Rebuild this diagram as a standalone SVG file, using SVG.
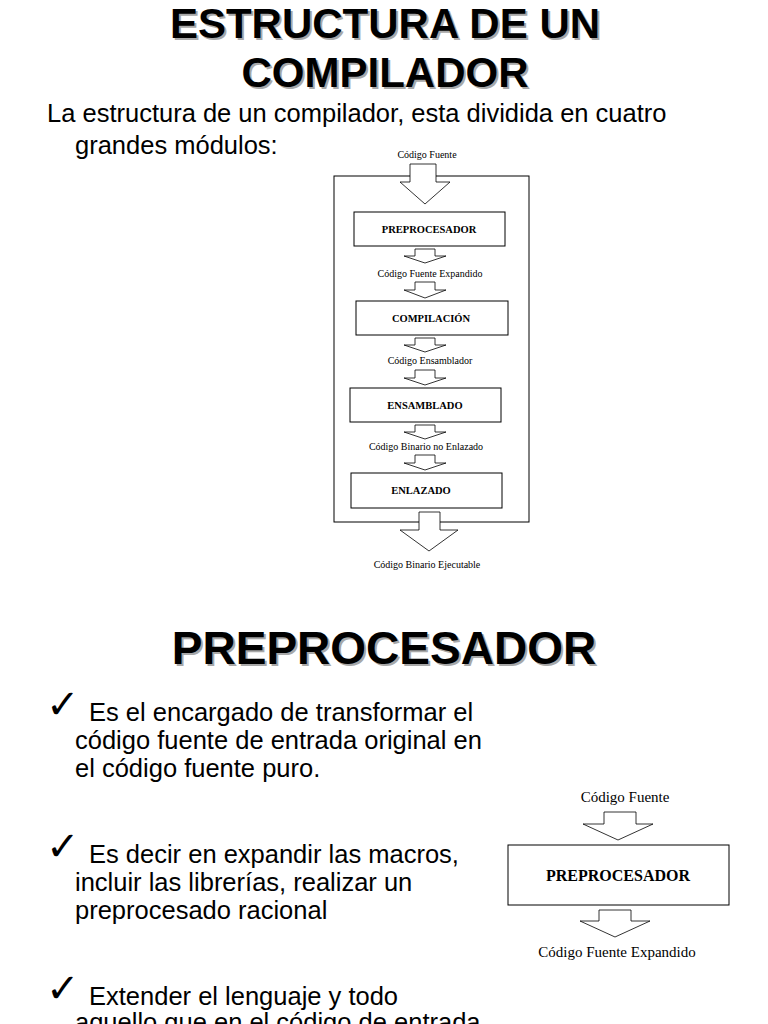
<svg xmlns="http://www.w3.org/2000/svg" width="768" height="1024" viewBox="0 0 768 1024">
<style>
.t{font-family:"Liberation Sans",Arial,sans-serif;font-weight:bold;text-anchor:middle;fill:#000}
.sh{font-family:"Liberation Sans",Arial,sans-serif;font-weight:bold;text-anchor:middle;fill:#a8a8a8}
.b{font-family:"Liberation Sans",Arial,sans-serif;font-size:25.5px;fill:#000}
.s{font-family:"Liberation Serif","Times New Roman",serif;font-size:10px;text-anchor:middle;fill:#000}
.sb{font-family:"Liberation Serif","Times New Roman",serif;font-size:10.5px;font-weight:bold;text-anchor:middle;fill:#000}
.s2{font-family:"Liberation Serif","Times New Roman",serif;font-size:15px;text-anchor:middle;fill:#000}
.sb2{font-family:"Liberation Serif","Times New Roman",serif;font-size:16px;font-weight:bold;text-anchor:middle;fill:#000}
.box{fill:#fff;stroke:#000;stroke-width:1}
.ar{fill:#fff;stroke:#000;stroke-width:0.8}
.ck{font-family:"DejaVu Sans",sans-serif;font-size:40px;font-weight:bold;fill:#000}
</style>
<rect width="768" height="1024" fill="#fff"/>
<text class="sh" x="387" y="40" font-size="42">ESTRUCTURA DE UN</text>
<text class="t" x="385" y="38" font-size="42">ESTRUCTURA DE UN</text>
<text class="sh" x="387" y="89" font-size="42">COMPILADOR</text>
<text class="t" x="385" y="87" font-size="42">COMPILADOR</text>
<text class="b" x="47" y="122">La estructura de un compilador, esta dividida en cuatro</text>
<text class="b" x="75" y="154">grandes módulos:</text>
<g id="diagram1">
<rect class="box" x="334" y="176" width="195" height="346"/>
<g id="connectors">
<path class="ar" d="M410 164H436V182H450L425 204L400 182H410Z"/>
<path class="ar" d="M415 249H435V256H446L425 263L404 256H415Z"/>
<path class="ar" d="M415 282H435V290H446L425 298L404 290H415Z"/>
<path class="ar" d="M415 338H435V345H446L425 352L404 345H415Z"/>
<path class="ar" d="M415 370H435V378H446L425 385L404 378H415Z"/>
<path class="ar" d="M415 425H435V432H446L425 439L404 432H415Z"/>
<path class="ar" d="M415 455H435V463H446L425 470L404 463H415Z"/>
<path class="ar" d="M419 512H440V530H458L429 551L400 530H419Z"/>
<path class="ar" d="M604 812H636V824H653L618 840L583 824H604Z"/>
<path class="ar" d="M599 910H631V921H650L615 937L580 921H599Z"/>
</g>
<text class="s" x="427" y="158">Código Fuente</text>
<g id="n1"><rect class="box" x="354" y="212" width="151" height="34"/><text class="sb" x="429" y="233">PREPROCESADOR</text></g>
<text class="s" x="430" y="277">Código Fuente Expandido</text>
<g id="n2"><rect class="box" x="356" y="301" width="152" height="34"/><text class="sb" x="431" y="322">COMPILACIÓN</text></g>
<text class="s" x="430" y="364">Código Ensamblador</text>
<g id="n3"><rect class="box" x="350" y="388" width="151" height="34"/><text class="sb" x="425" y="409">ENSAMBLADO</text></g>
<text class="s" x="426" y="450">Código Binario no Enlazado</text>
<g id="n4"><rect class="box" x="351" y="473" width="151" height="35"/><text class="sb" x="421" y="494">ENLAZADO</text></g>
<text class="s" x="427" y="568">Código Binario Ejecutable</text>
</g>
<text class="sh" x="386" y="666" font-size="46">PREPROCESADOR</text>
<text class="t" x="384" y="664" font-size="46">PREPROCESADOR</text>
<text class="ck" x="46" y="718">✓</text>
<text class="b" x="89" y="721">Es el encargado de transformar el</text>
<text class="b" x="75" y="749">código fuente de entrada original en</text>
<text class="b" x="75" y="777">el código fuente puro.</text>
<text class="ck" x="46" y="860">✓</text>
<text class="b" x="89" y="863">Es decir en expandir las macros,</text>
<text class="b" x="75" y="891">incluir las librerías, realizar un</text>
<text class="b" x="75" y="919">preprocesado racional</text>
<text class="ck" x="46" y="1002">✓</text>
<text class="b" x="89" y="1005">Extender el lenguaje y todo</text>
<text class="b" x="75" y="1031">aquello que en el código de entrada</text>
<g id="diagram2">
<text class="s2" x="625" y="802">Código Fuente</text>
<g id="p1"><rect class="box" x="508" y="845" width="221" height="60"/><text class="sb2" x="618" y="881">PREPROCESADOR</text></g>
<text class="s2" x="617" y="957">Código Fuente Expandido</text>
</g>
</svg>
